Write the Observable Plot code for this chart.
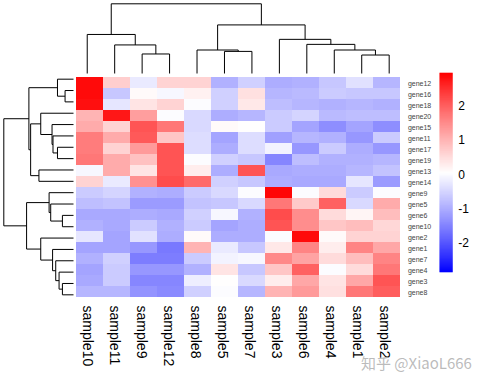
<!DOCTYPE html>
<html><head><meta charset="utf-8">
<script src="https://cdn.jsdelivr.net/npm/d3@7"></script>
<script src="https://cdn.jsdelivr.net/npm/@observablehq/plot@0.6"></script>
<style>
body{margin:0;background:#fff;}
#chart{position:relative;width:480px;height:384px;overflow:hidden;font-family:"Liberation Sans",Arial,sans-serif;}
#chart svg{position:absolute;left:0;top:0;}
#wm{position:absolute;left:361px;top:352px;font-family:"Noto Sans CJK SC","Liberation Sans",sans-serif;font-size:15px;color:rgba(175,175,175,0.85);white-space:nowrap;}
</style></head><body><div id="chart"><div id="wm">知乎 @XiaoL666</div></div>
<script>
const samples = ["sample10","sample11","sample9","sample12","sample8","sample5","sample7","sample3","sample6","sample4","sample1","sample2"];
const genes = ["gene12","gene16","gene18","gene20","gene15","gene11","gene17","gene19","gene13","gene14","gene9","gene5","gene6","gene10","gene2","gene1","gene7","gene4","gene3","gene8"];
const values = [
  [2.85, 0.6, -0.2, 0.55, 0.55, -0.85, -0.5, -0.9, -0.85, -0.6, -0.3, -0.8],
  [2.85, -0.6, 0.1, -0.05, 0.2, -0.5, 0.4, -0.8, -0.75, -0.55, -0.6, -0.6],
  [2.8, -0.25, 0.35, 0.55, 0.0, -0.5, 0.3, -0.7, -0.8, -0.85, -0.8, -0.85],
  [0.9, 2.7, 1.15, 0.0, -0.4, -0.9, -0.8, -0.55, -0.45, -0.75, -0.7, -0.7],
  [1.0, 0.55, 2.0, 1.6, -0.4, 0.1, 0.05, -0.55, -1.0, -1.25, -1.0, -1.25],
  [1.55, 1.0, 1.95, 0.7, -0.35, -1.0, -0.35, -1.05, -0.8, -0.85, -1.15, -0.55],
  [1.55, 0.55, 1.2, 2.0, -0.35, -0.9, -0.35, -0.1, -1.15, -0.55, -0.9, -1.15],
  [1.6, 1.0, 0.75, 2.0, 0.0, -0.5, -0.6, -1.35, -0.7, -0.85, -0.85, -0.8],
  [-0.05, 1.0, 0.35, 2.0, 0.25, -0.9, 2.0, -0.95, -0.9, -0.9, -0.8, -0.65],
  [0.55, -0.2, 1.3, 2.1, 1.75, -0.5, -0.6, -0.9, -0.95, -0.95, -0.25, -1.1],
  [-0.55, -0.45, -0.85, -0.9, -0.55, -0.4, 0.0, 2.9, 0.0, 0.45, -0.55, 0.0],
  [-0.7, -0.65, -1.1, -1.1, -0.65, -0.6, -0.4, 1.6, 0.65, 1.85, -0.4, 1.0],
  [-0.95, -0.95, -0.9, -0.95, -0.5, -0.05, -0.85, 2.1, 1.35, 0.45, 0.15, 0.8],
  [-0.85, -0.95, -0.55, -0.85, -0.55, -1.0, -0.9, 2.0, 1.35, 0.7, 0.8, 0.5],
  [-0.25, -1.0, -0.3, -0.9, 0.1, -0.9, -0.9, 0.0, 2.85, 0.1, 0.55, 0.55],
  [-1.0, -1.0, -1.15, -1.5, 0.9, -0.2, -0.6, 0.3, 1.45, 0.25, 1.45, 1.05],
  [-0.85, -0.5, -1.45, -1.45, -0.55, -0.1, -0.05, 1.4, 1.1, 0.45, 0.8, 1.45],
  [-1.0, -0.55, -1.15, -1.15, -0.85, 0.35, -0.6, 0.7, 1.85, 0.0, 0.45, 1.6],
  [-0.95, -0.55, -1.35, -1.35, -0.15, 0.05, -0.4, 0.25, 1.05, 0.35, 1.05, 2.0],
  [-0.8, -0.8, -1.2, -1.3, -0.5, 0.0, -0.8, 0.9, 1.2, 0.4, 1.6, 1.9]
];
// dendrogram merges: [left, right, height]; numbers refer to earlier merges
const colMerges = [
  ["sample9","sample12",0.28], ["sample11",0,0.41], ["sample10",1,0.56],
  ["sample5","sample7",0.317], ["sample8",3,0.337],
  ["sample1","sample2",0.265], ["sample4",5,0.337], ["sample6",6,0.418], ["sample3",7,0.49],
  [4,8,0.697], [2,9,1.0]
];
const rowMerges = [
  ["gene16","gene18",0.121], ["gene12",0,0.23],
  ["gene17","gene19",0.23], ["gene11",2,0.294], ["gene15",3,0.308], ["gene20",4,0.47],
  ["gene13","gene14",0.496], [5,6,0.615], [1,7,0.64],
  ["gene6","gene10",0.159], ["gene5",9,0.327], ["gene9",10,0.35],
  ["gene3","gene8",0.159], ["gene4",12,0.207], ["gene7",13,0.255], ["gene1",14,0.30], ["gene2",15,0.47],
  [11,16,0.673], [8,17,1.0]
];
const legendTicks = [-2,-1,0,1,2];
const colorDomain = [-2.88, 0.04, 2.97];
const colorRange = ["#0000ff","#ffffff","#ff0000"];

const cells = [];
genes.forEach((g,i)=>samples.forEach((s,j)=>cells.push({gene:g, sample:s, value:values[i][j]})));

function segments(merges, order){
  const nodes = [];
  const get = k => typeof k === "number" ? nodes[k] : {pos: order.indexOf(k)+0.5, h:0};
  const segs = [];
  for (const [l,r,h] of merges){
    const a = get(l), b = get(r);
    segs.push({a1:a.pos,h1:a.h,a2:a.pos,h2:h});
    segs.push({a1:b.pos,h1:b.h,a2:b.pos,h2:h});
    segs.push({a1:a.pos,h1:h,a2:b.pos,h2:h});
    nodes.push({pos:(a.pos+b.pos)/2, h});
  }
  return segs;
}
const colSegs = segments(colMerges, samples);
const rowSegs = segments(rowMerges, genes);

const W=480,H=384, L=73, R=402.4, T=73, B=300;
const font = "'Liberation Sans', Arial, sans-serif";
const color = {type:"linear", domain:colorDomain, range:colorRange, interpolate:"rgb"};
const chart = document.getElementById("chart");

const main = Plot.plot({
  width:W, height:H, marginLeft:L, marginRight:W-R, marginTop:T, marginBottom:H-B,
  style:{background:"transparent", fontFamily:font},
  x:{type:"band", domain:samples, padding:0, axis:null},
  y:{type:"band", domain:genes, padding:0, axis:null},
  color,
  marks:[
    Plot.cell(cells,{x:"sample", y:"gene", fill:"value", inset:0, shapeRendering:"crispEdges"}),
    Plot.text(samples,{x:d=>d, frameAnchor:"bottom", rotate:90, textAnchor:"start", lineAnchor:"middle", dy:5, dx:-3, fontSize:14, fill:"black"}),
    Plot.text(genes,{y:d=>d, frameAnchor:"right", textAnchor:"start", dx:5, dy:1, fontSize:7, fill:"#444"})
  ]
});
chart.appendChild(main);

const colDendro = Plot.plot({
  width:W, height:H, marginLeft:L, marginRight:W-R, marginTop:3.3, marginBottom:H-T,
  style:{background:"transparent"},
  x:{domain:[0,samples.length], axis:null},
  y:{domain:[0,1], axis:null},
  marks:[Plot.link(colSegs,{x1:"a1", y1:"h1", x2:"a2", y2:"h2", stroke:"black", strokeWidth:1})]
});
chart.appendChild(colDendro);

const rowDendro = Plot.plot({
  width:W, height:H, marginLeft:3.3, marginRight:W-L, marginTop:T, marginBottom:H-B,
  style:{background:"transparent"},
  x:{domain:[1,0], axis:null},
  y:{domain:[0,genes.length], reverse:true, axis:null},
  marks:[Plot.link(rowSegs,{x1:"h1", y1:"a1", x2:"h2", y2:"a2", stroke:"black", strokeWidth:1})]
});
chart.appendChild(rowDendro);

const stepN = 200;
const stops = d3.range(stepN).map(i => colorDomain[0] + (colorDomain[2]-colorDomain[0])*i/stepN);
const dv = (colorDomain[2]-colorDomain[0])/stepN;
const legend = Plot.plot({
  width:W, height:H, marginLeft:439.5, marginRight:W-452.7, marginTop:73, marginBottom:H-272.3,
  style:{background:"transparent", fontFamily:font, fontSize:"12px"},
  x:{domain:[0,1], axis:null},
  y:{domain:[colorDomain[0], colorDomain[2]], axis:"right", ticks:legendTicks, tickSize:0, tickPadding:5, tickFormat:d=>String(d), label:null},
  color,
  marks:[Plot.rect(stops,{x1:0, x2:1, y1:d=>d, y2:d=>d+dv*1.3, fill:d=>d+dv/2})]
});
chart.appendChild(legend);
chart.appendChild(document.getElementById("wm"));
</script></body></html>
